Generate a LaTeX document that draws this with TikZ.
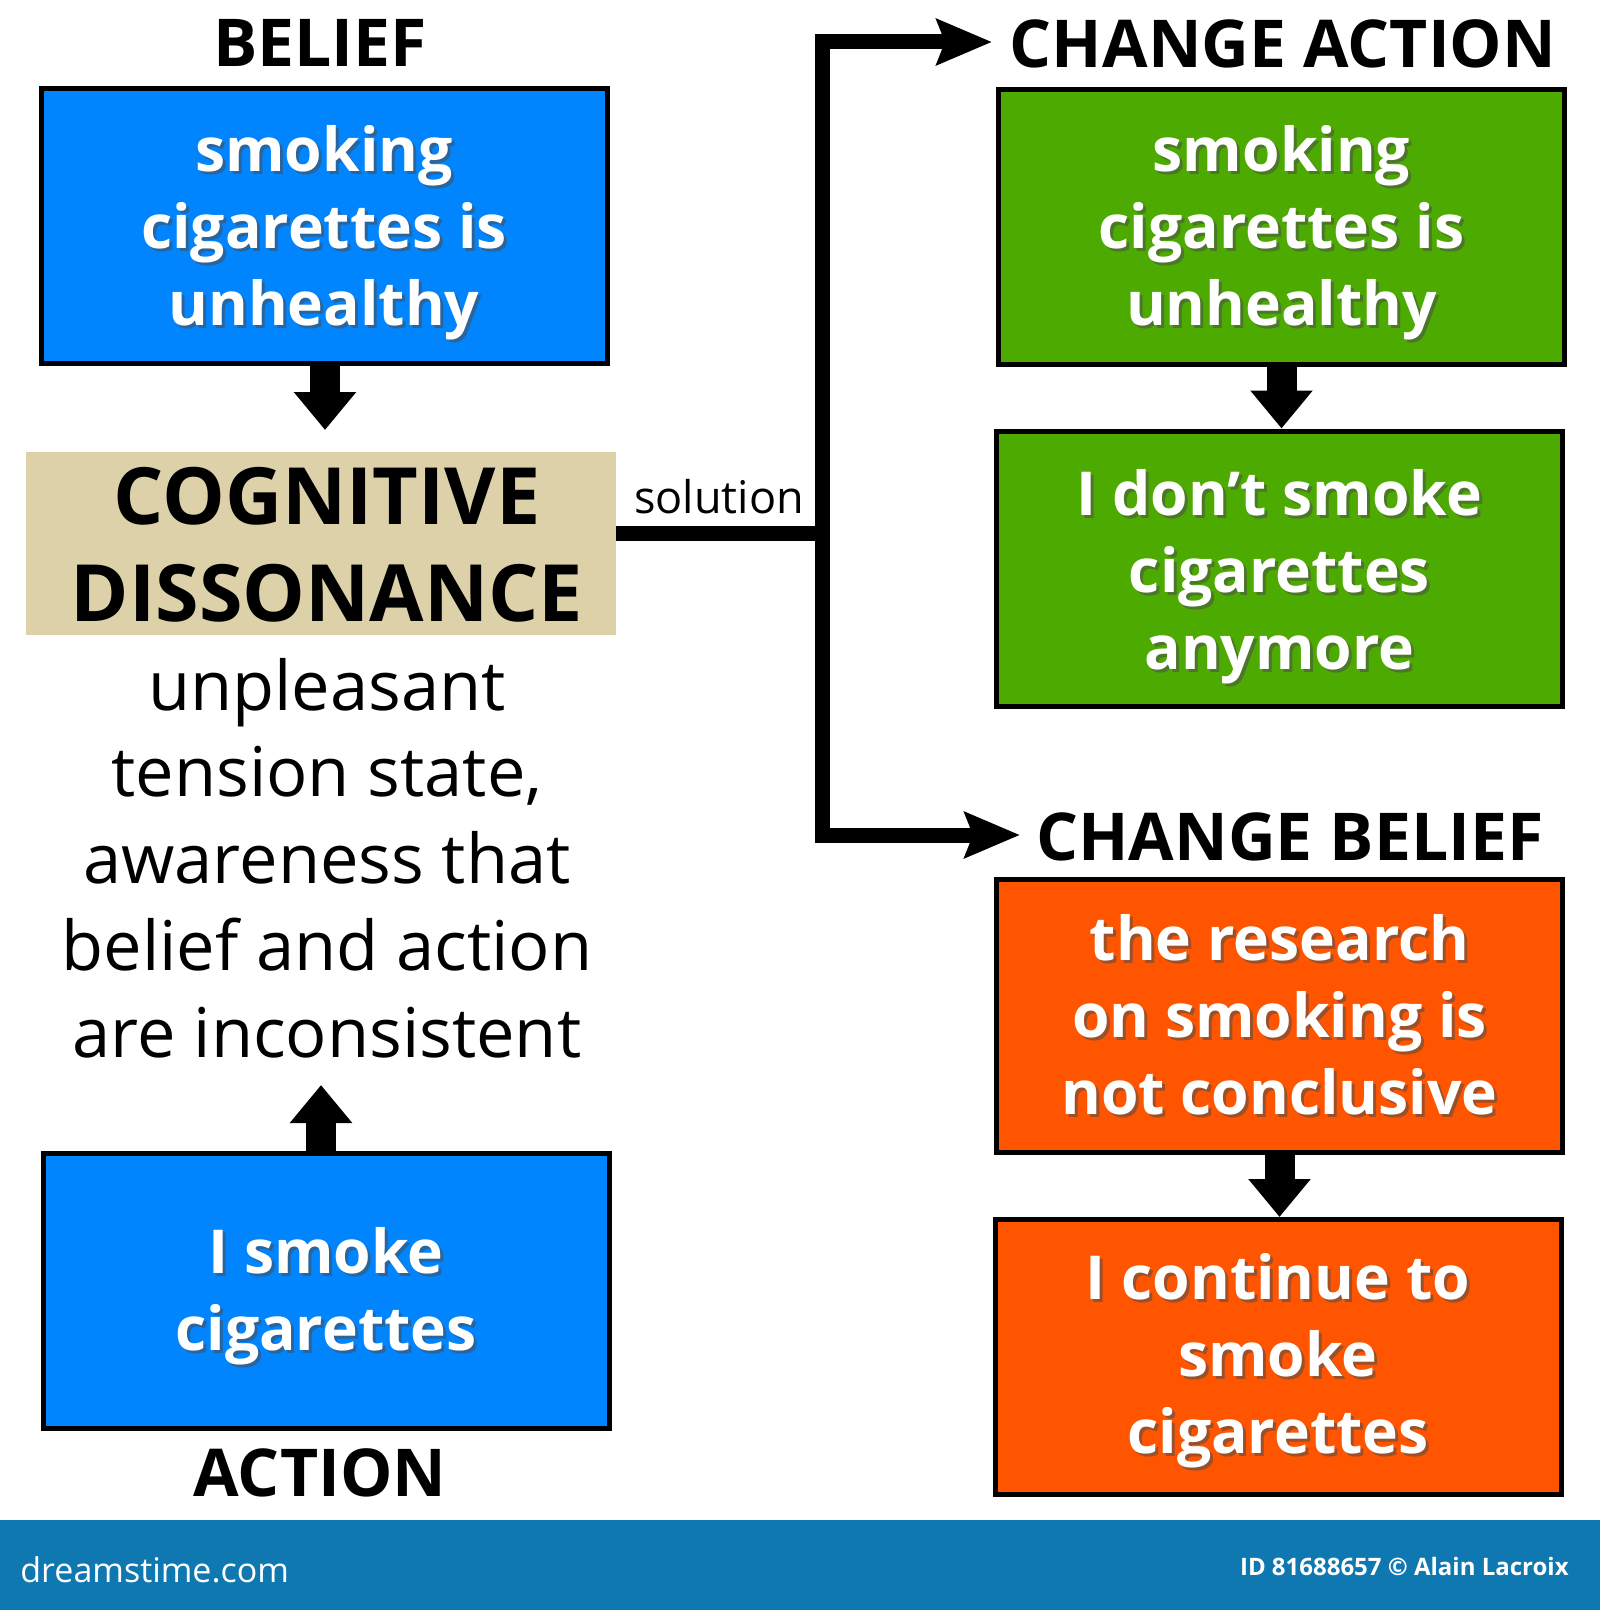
\documentclass[tikz,border=0pt]{standalone}
\usepackage{fontspec}
\setmainfont{Open Sans}
\usetikzlibrary{arrows.meta}
\definecolor{cblue}{RGB}{0,133,255}
\definecolor{cgreen}{RGB}{76,170,0}
\definecolor{corange}{RGB}{255,85,0}
\definecolor{ctan}{RGB}{221,209,170}
\definecolor{cbar}{RGB}{16,120,176}
\newcommand\shtext[4][6]{%
  \node[shtxt] (#2s) at ([shift={(3,#1+3)}]#3) {#4};
  \node[btxt] (#2) at ([shift={(0,#1)}]#3) {#4};}
\begin{document}
\begin{tikzpicture}[x=0.5pt,y=-0.5pt,
  box/.style={draw=black, line width=2.5pt, minimum width=283pt, minimum height=137.5pt, inner sep=0pt},
  btxt/.style={text=white, font=\bfseries\fontsize{30.3pt}{38.5pt}\selectfont, align=center, inner sep=0pt},
  shtxt/.style={btxt, text=black!70, opacity=0.55},
  hdr/.style={font=\bfseries\fontsize{33pt}{40pt}\selectfont, anchor=base, inner sep=0pt},
  cdtxt/.style={font=\bfseries\fontsize{39.5pt}{48pt}\selectfont, anchor=base, inner sep=0pt},
  varrow/.style={line width=15pt, -{Triangle[length=19pt,width=30pt]}},
  conn/.style={line width=7.5pt},
  carrow/.style={conn, -{Stealth[length=27.5pt,width=22.5pt,inset=4pt]}}]
\useasboundingbox (0,0) rectangle (1600,1610);
\fill[white] (0,0) rectangle (1600,1610);

% boxes
\node[box, fill=cblue] (bel) at (324,226.5) {};
\node[box, fill=cblue] (act) at (326,1290.5) {};
\node[box, fill=cgreen] (ga) at (1281.5,227) {};
\node[box, fill=cgreen] (gb) at (1279.5,568.5) {};
\node[box, fill=corange, minimum height=136.5pt] (oa) at (1279.5,1015.5) {};
\node[box, fill=corange] (ob) at (1278,1357) {};
\node[fill=ctan, minimum width=295pt, minimum height=91.5pt, inner sep=0pt] (cd) at (321,543.5) {};

% headings
\node[hdr] (hbel) at (320,67) {BELIEF};
\node[hdr] (hact) at (320,1496) {ACTION};
\node[hdr] (hca) at (1283,68) {CHANGE ACTION};
\node[hdr] (hcb) at (1290,860) {CHANGE BELIEF};

% box texts
\shtext{belt}{bel.center}{smoking\\cigarettes is\\unhealthy}
\shtext{actt}{act.center}{I smoke\\cigarettes}
\shtext{gat}{ga.center}{smoking\\cigarettes is\\unhealthy}
\shtext[8]{gbt}{gb.center}{I don’t smoke\\cigarettes\\anymore}
\shtext[-1]{oat}{oa.center}{the research\\on smoking is\\not conclusive}
\shtext[4]{obt}{ob.center}{I continue to\\smoke\\cigarettes}

% cognitive dissonance
\node[cdtxt] (cd1) at (327,524) {COGNITIVE};
\node[cdtxt] (cd2) at (327,621) {DISSONANCE};
\node[align=center, inner sep=0pt, font=\fontsize{34.3pt}{43.4pt}\selectfont] (body) at (327,858)
  {unpleasant\\tension state,\\awareness that\\belief and action\\are inconsistent};
\node[anchor=base, inner sep=0pt, font=\fontsize{22.5pt}{27pt}\selectfont] (sol) at (719,513) {solution};

% vertical arrows
\coordinate (a1) at (325,430);
\draw[varrow] (a1 |- bel.south) -- (a1);
\coordinate (au) at (321,1085);
\draw[varrow] (au |- act.north) -- (au);
\draw[varrow] (ga.south) -- (ga.south |- gb.north);
\draw[varrow] (oa.south) -- (oa.south |- ob.north);

% connectors
\coordinate (j) at (822,533);
\coordinate (tA) at (992,42);
\coordinate (tB) at (1020,835);
\draw[conn] (cd.east |- j) -- (j);
\draw[carrow] (j) |- (tA);
\draw[carrow] (j) |- (tB);

% bottom bar
\fill[cbar] (0,1520) rectangle (1600,1610);
\node[anchor=base west, text=white, font=\fontsize{17pt}{20pt}\selectfont, inner sep=0pt] (dt) at (20,1582) {dreamstime.com};
\node[anchor=base east, text=white, font=\bfseries\fontsize{12pt}{14pt}\selectfont, inner sep=0pt] (idt) at (1569,1575) {ID 81688657 © Alain Lacroix};
\end{tikzpicture}
\end{document}
